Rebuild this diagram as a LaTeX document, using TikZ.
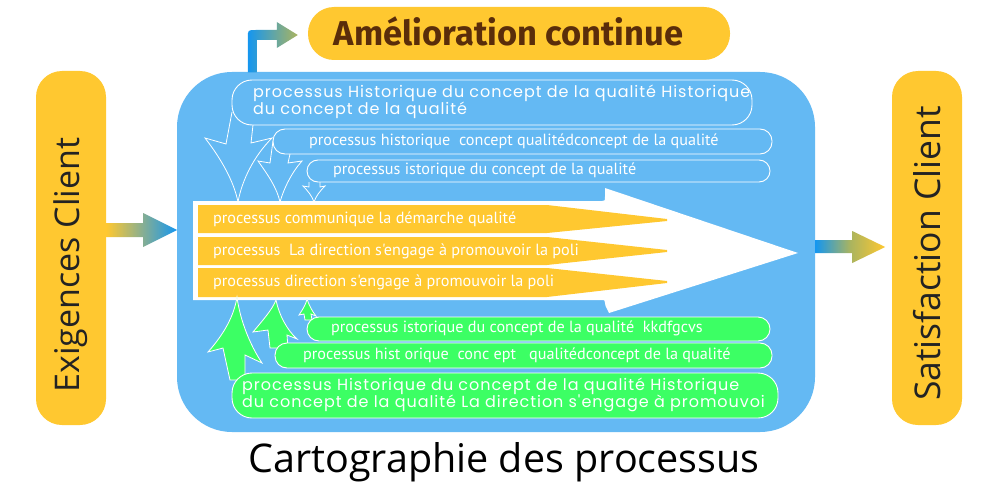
\documentclass[tikz,border=0pt]{standalone}
\usepackage{fontspec}
\setmainfont{Open Sans}
\newfontfamily\smallfont{PT Sans}
\newfontfamily\roundfont[LetterSpace=6]{Poppins}
\newfontfamily\amfont{Fira Sans}
\usetikzlibrary{calc}
\definecolor{gold}{RGB}{255,200,48}
\definecolor{skyb}{RGB}{100,185,243}
\definecolor{arrowb}{RGB}{20,150,240}
\definecolor{oliv}{RGB}{170,180,95}
\definecolor{lgreen}{RGB}{60,255,100}
\definecolor{brownt}{RGB}{90,45,10}
\definecolor{darkt}{RGB}{35,35,35}
\tikzset{
  goldbox/.style={fill=gold, rounded corners=26pt, inner sep=0pt},
  sidetxt/.style={rotate=90, text=darkt, inner sep=0pt},
  outbox/.style={draw=white, line width=0.9pt, inner sep=0pt},
  grbox/.style={draw=white, fill=lgreen, line width=0.9pt, inner sep=0pt},
  smalltxt/.style={text=white, anchor=west, inner sep=0pt, font=\smallfont\fontsize{16.2}{18}\selectfont},
  roundtxt/.style={text=white, anchor=west, align=left, inner sep=0pt, font=\roundfont\fontsize{16}{17.5}\selectfont},
  outarrow/.style={draw=white, line width=0.8pt},
  grarrow/.style={draw=white, fill=lgreen, line width=0.8pt},
}
\begin{document}
\begin{tikzpicture}[x=1pt,y=-1pt]
\useasboundingbox (0,0) rectangle (1000,500);
\fill[white] (0,0) rectangle (1000,500);

% side boxes
\node[goldbox, minimum width=70pt, minimum height=354pt] (exig) at (71,248) {};
\node[sidetxt, font=\fontsize{34}{36}\selectfont] (exigt) at (71,265) {Exigences Client};
\node[goldbox, minimum width=70pt, minimum height=354pt] (satis) at (927,248) {};
\node[sidetxt, font=\fontsize{35.5}{37}\selectfont] (satist) at (927,253.5) {Satisfaction Client};

% top box
\node[goldbox, minimum width=422pt, minimum height=53pt] (amel) at (519,33.5) {};
\node[text=brownt, inner sep=0pt, font=\amfont\bfseries\fontsize{34.5}{36}\selectfont] (amelt) at (508.5,31) {Amélioration continue};

% main box
\node[fill=skyb, rounded corners=55pt, minimum width=638pt, minimum height=360pt, inner sep=0pt] (main) at (496,252) {};

% caption
\node[inner sep=0pt, font=\fontsize{39.5}{42}\selectfont] (cap) at (504,462) {Cartographie des processus};

% gradient connectors
\shade[left color=gold, right color=arrowb, shift={(exig.east)}]
  (0,-25) -- (37,-25) -- (37,-35) -- (71,-18) -- (37,-1) -- (37,-11) -- (0,-11) -- cycle;
\shade[left color=arrowb, right color=gold, middle color=oliv, shift={(main.east)}]
  (0,-12) -- (37,-12) -- (37,-21) -- (70,-5) -- (37,11) -- (37,1) -- (0,1) -- cycle;
\shade[left color=arrowb, right color=oliv, shift={(amel.west)}]
  (-60,39) -- (-60,4.5) .. controls (-60,-3.5) .. (-52,-3.5) -- (-31,-3.5) -- (-31,-11.5)
  -- (-10,1.5) -- (-31,14.5) -- (-31,6.5) -- (-51,6.5) -- (-51,39) -- cycle;

% big white arrow
\fill[white] (193,201) -- (602,201) .. controls (605,201) .. (605,196) -- (605,188)
  -- (798,253) -- (609,313) .. controls (605,305) .. (605,303) .. controls (605,300) .. (600,300)
  -- (193,300) -- cycle;

% yellow bars
\fill[gold] (198,205) -- (547,205) -- (667,219) -- (667,221) -- (547,233) -- (198,233) -- cycle;
\fill[gold] (198,237) -- (547,237) -- (667,250) -- (667,252) -- (547,265) -- (198,265) -- cycle;
\fill[gold] (198,268) -- (547,268) -- (667,281) -- (667,283) -- (547,297) -- (198,297) -- cycle;
\node[smalltxt] (y1) at (213,219) {processus communique la démarche qualité};
\node[smalltxt] (y2) at (213,251) {processus\ \ La direction s'engage à promouvoir la poli};
\node[smalltxt] (y3) at (213,282) {processus direction s'engage à promouvoir la poli};

% green arrows
\path[grarrow] (230,380) -- (223,348) -- (208,352) .. controls (224,334) and (234,316) .. (237,297)
  .. controls (240,320) and (250,345) .. (262,363) -- (245,355) -- (245,380) -- cycle;
\path[grarrow] (270,348) -- (268,330) -- (253,332) .. controls (263,320) and (272,310) .. (276,300)
  .. controls (279,315) and (287,330) .. (297,339) -- (287,335) -- (288,348) -- cycle;
\path[grarrow] (305,320) -- (304,314) -- (299,315) .. controls (303,309) and (306,304) .. (307,299)
  .. controls (309,305) and (312,311) .. (316,316) -- (311,314) -- (312,320) -- cycle;

% green boxes
\node[grbox, rounded corners=12pt, minimum width=463pt, minimum height=24pt] (g1) at (538.5,329) {};
\node[grbox, rounded corners=12pt, minimum width=497pt, minimum height=25pt] (g2) at (523.5,355.5) {};
\node[grbox, rounded corners=20pt, minimum width=546pt, minimum height=45pt] (g3) at (505,395.5) {};
\node[smalltxt] (g1t) at (331,328) {processus istorique du concept de la qualité\ \ kkdfgcvs};
\node[smalltxt] (g2t) at (303,355) {processus hist orique\ \ conc ept\ \ \ qualitédconcept de la qualité};
\node[roundtxt] (g3t) at (242,395) {processus Historique du concept de la qualité Historique\\du concept de la qualité La direction s'engage à promouvoi};

% top outline arrows
\draw[outarrow] (232,112) -- (226,144) -- (205,138) .. controls (222,160) and (234,182) .. (238,202)
  .. controls (242,180) and (254,156) .. (272,138) -- (251,143) -- (253,125);
\draw[outarrow] (273,141) -- (270,163) -- (258,161) .. controls (268,175) and (277,188) .. (280,202)
  .. controls (284,188) and (292,172) .. (302,161) -- (288,163) -- (290,154);
\draw[outarrow] (309,182) -- (309,187) -- (303,186) .. controls (308,191) and (312,196) .. (314,202)
  .. controls (316,196) and (320,191) .. (325,186) -- (320,187) -- (320,182);

% top outline boxes
\node[outbox, rounded corners=20pt, minimum width=520pt, minimum height=45pt] (t1) at (492,102.5) {};
\node[outbox, rounded corners=12pt, minimum width=499pt, minimum height=25pt] (t2) at (522.5,141.5) {};
\node[outbox, rounded corners=11pt, minimum width=463pt, minimum height=22pt] (t3) at (538.5,171) {};
\node[roundtxt] (t1t) at (253,102) {processus Historique du concept de la qualité Historique\\du concept de la qualité};
\node[smalltxt] (t2t) at (309,141) {processus historique\ \ concept qualitédconcept de la qualité};
\node[smalltxt] (t3t) at (333,170) {processus istorique du concept de la qualité};
\end{tikzpicture}
\end{document}
